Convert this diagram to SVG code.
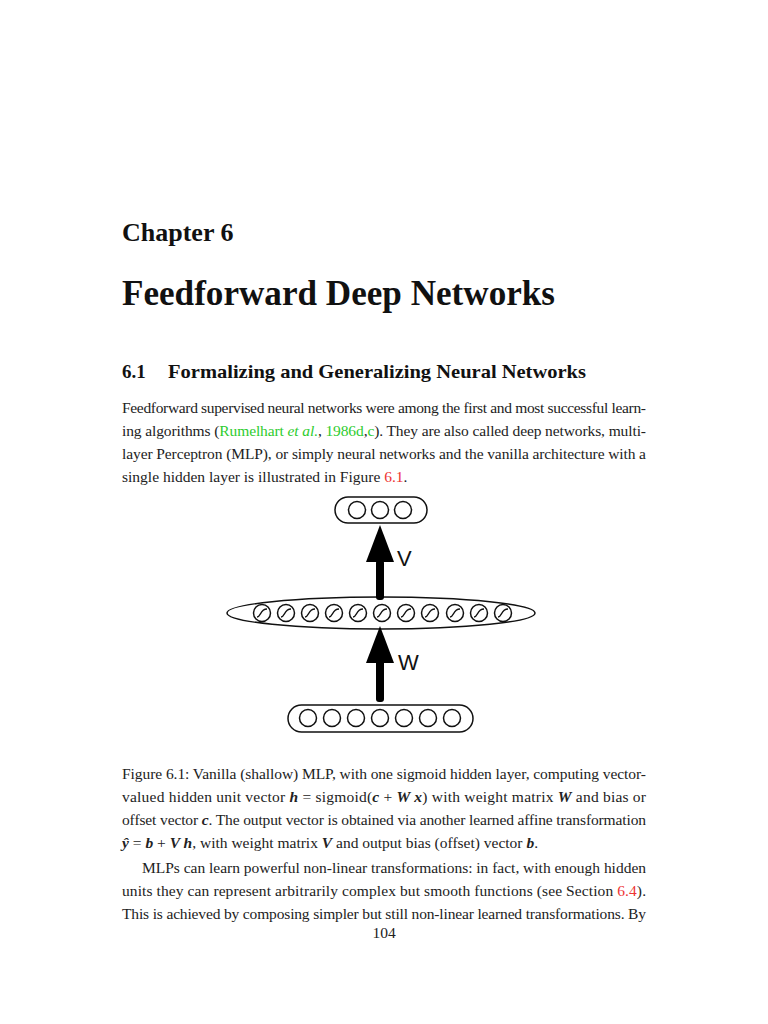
<svg xmlns="http://www.w3.org/2000/svg" xmlns:xlink="http://www.w3.org/1999/xlink" width="768" height="1024" viewBox="0 0 768 1024">
<style>
.t{font-family:"Liberation Serif",serif;font-size:15.5px;fill:#222}
.h{font-family:"Liberation Serif",serif;font-weight:bold;fill:#111}
.g{fill:#2ecc2e}.r{fill:#e33}
.c{fill:#fff;stroke:#111;stroke-width:1.5}
.lbl{font-family:"Liberation Sans",sans-serif;font-size:22px;fill:#111}
</style>
<defs>
<g id="u"><circle r="8.5" class="c"/></g>
<g id="s"><circle r="8.5" class="c"/><path d="M-5,4 C-1,4 -2,-4 5,-4" fill="none" stroke="#111" stroke-width="1.3"/></g>
</defs>
<rect width="768" height="1024" fill="#fff"/>
<text class="h" x="122" y="241" font-size="26">Chapter 6</text>
<text class="h" x="122" y="305" font-size="35" textLength="433" lengthAdjust="spacingAndGlyphs">Feedforward Deep Networks</text>
<text class="h" x="122" y="378" font-size="19">6.1</text>
<text class="h" x="168" y="378" font-size="19" textLength="418" lengthAdjust="spacingAndGlyphs">Formalizing and Generalizing Neural Networks</text>
<text class="t" x="122" y="413" textLength="524" lengthAdjust="spacing">Feedforward supervised neural networks were among the first and most successful learn-</text>
<text class="t" x="122" y="436" textLength="524" lengthAdjust="spacing">ing algorithms (<tspan class="g">Rumelhart <tspan font-style="italic">et al.</tspan></tspan>, <tspan class="g">1986d</tspan>,<tspan class="g">c</tspan>). They are also called deep networks, multi-</text>
<text class="t" x="122" y="459" textLength="524" lengthAdjust="spacing">layer Perceptron (MLP), or simply neural networks and the vanilla architecture with a</text>
<text class="t" x="122" y="482">single hidden layer is illustrated in Figure <tspan class="r">6.1</tspan>.</text>
<g id="output-layer">
<rect x="335" y="497" width="92" height="26" rx="13" class="c"/>
<use xlink:href="#u" x="357" y="510"/><use xlink:href="#u" x="380" y="510"/><use xlink:href="#u" x="403" y="510"/>
</g>
<g id="hidden-layer">
<ellipse cx="381" cy="613" rx="154" ry="16" class="c"/>
<use xlink:href="#s" x="262" y="613"/><use xlink:href="#s" x="286" y="613"/><use xlink:href="#s" x="310" y="613"/><use xlink:href="#s" x="334" y="613"/><use xlink:href="#s" x="358" y="613"/><use xlink:href="#s" x="382" y="613"/><use xlink:href="#s" x="406" y="613"/><use xlink:href="#s" x="430" y="613"/><use xlink:href="#s" x="455" y="613"/><use xlink:href="#s" x="479" y="613"/><use xlink:href="#s" x="503" y="613"/>
</g>
<g id="input-layer">
<rect x="288" y="705" width="185" height="27" rx="13.5" class="c"/>
<use xlink:href="#u" x="308" y="718"/><use xlink:href="#u" x="332" y="718"/><use xlink:href="#u" x="356" y="718"/><use xlink:href="#u" x="380" y="718"/><use xlink:href="#u" x="404" y="718"/><use xlink:href="#u" x="428" y="718"/><use xlink:href="#u" x="452" y="718"/>
</g>
<g id="connectors" fill="#000">
<rect x="376" y="560" width="8" height="40" rx="3"/>
<polygon points="380,525 366,562 394,562"/>
<rect x="376" y="660" width="8" height="42" rx="3"/>
<polygon points="380,626 366,663 394,663"/>
<text class="lbl" x="397" y="566">V</text>
<text class="lbl" x="398" y="670">W</text>
</g>
<text class="t" x="122" y="779" textLength="524" lengthAdjust="spacing">Figure 6.1: Vanilla (shallow) MLP, with one sigmoid hidden layer, computing vector-</text>
<text class="t" x="122" y="802" textLength="524" lengthAdjust="spacing">valued hidden unit vector <tspan font-weight="bold" font-style="italic">h</tspan> = sigmoid(<tspan font-weight="bold" font-style="italic">c</tspan> + <tspan font-weight="bold" font-style="italic">W x</tspan>) with weight matrix <tspan font-weight="bold" font-style="italic">W</tspan> and bias or</text>
<text class="t" x="122" y="825" textLength="524" lengthAdjust="spacing">offset vector <tspan font-weight="bold" font-style="italic">c</tspan>. The output vector is obtained via another learned affine transformation</text>
<text class="t" x="122" y="848"><tspan font-weight="bold" font-style="italic">ŷ</tspan> = <tspan font-weight="bold" font-style="italic">b</tspan> + <tspan font-weight="bold" font-style="italic">V h</tspan>, with weight matrix <tspan font-weight="bold" font-style="italic">V</tspan> and output bias (offset) vector <tspan font-weight="bold" font-style="italic">b</tspan>.</text>
<text class="t" x="142" y="873" textLength="504" lengthAdjust="spacing">MLPs can learn powerful non-linear transformations: in fact, with enough hidden</text>
<text class="t" x="122" y="896" textLength="524" lengthAdjust="spacing">units they can represent arbitrarily complex but smooth functions (see Section <tspan class="r">6.4</tspan>).</text>
<text class="t" x="122" y="919" textLength="524" lengthAdjust="spacing">This is achieved by composing simpler but still non-linear learned transformations. By</text>
<text class="t" x="384" y="938" text-anchor="middle">104</text>
</svg>
